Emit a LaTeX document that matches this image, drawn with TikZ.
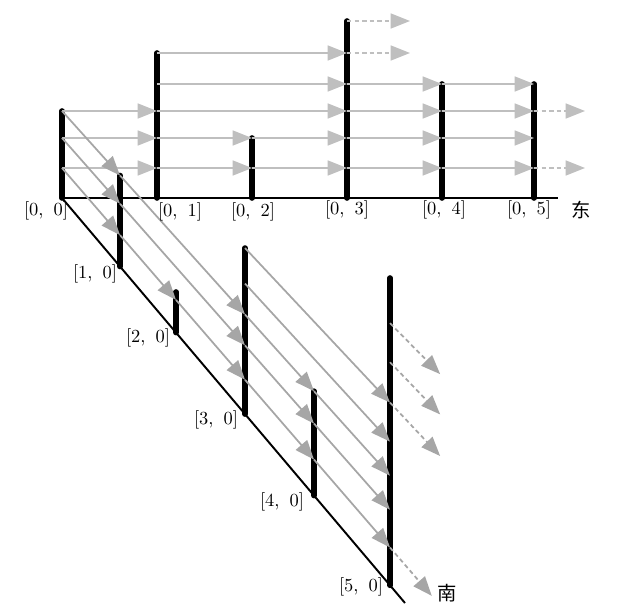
\documentclass[tikz,border=0pt]{standalone}
\usepackage{fontspec}
\usepackage{tikz}
\usepackage{xcolor}
\usetikzlibrary{arrows.meta,calc}
\newfontfamily\cjk{Noto Sans CJK SC}
\definecolor{FlowEast}{HTML}{BFBFBF}
\definecolor{FlowSouth}{HTML}{A6A6A6}
\newcommand\gridpos[2]{[#1,\hspace{0.55em}#2]}
\newcommand\labeast{东}
\newcommand\labsouth{南}
\tikzstyle{pole} = [line width=3.2pt, line cap=round, draw=black]
\tikzstyle{ground} = [line width=1.1pt, draw=black]
\tikzstyle{fe} = [->, line width=1pt, draw=FlowEast]
\tikzstyle{fs} = [->, line width=1pt, draw=FlowSouth]
\tikzstyle{fed} = [fe, dash pattern=on 2.5pt off 1.8pt]
\tikzstyle{fsd} = [fs, dash pattern=on 2.5pt off 1.8pt]
\tikzstyle{lbl} = [inner sep=0pt, font=\fontsize{10.5}{10.5}\selectfont]
\tikzset{>={Triangle[length=11pt,width=8.5pt]}}

\begin{document}
\begin{tikzpicture}[x=0.02cm, y=-0.02cm]
\useasboundingbox (0,0) rectangle (623,609);
% east row: bases and levels
\foreach \j/\x in {0/62,1/157,2/252,3/347,4/442,5/534} {
  \coordinate (e\j) at (\x,198);
  \foreach \n/\y in {1/168,2/138,3/111,4/84,5/53,6/21}
    \coordinate (e\j-\n) at (\x,\y);
}
% south row: bases and levels (grow towards the front)
\foreach \i/\x in {0/62,1/120,2/176,3/245,4/314,5/390} {
  \pgfmathsetmacro\by{198+1.1808*(\x-62)}
  \pgfmathsetmacro\sc{1+0.000793*(\x-62)}
  \coordinate (s\i) at (\x,\by);
  \foreach \n/\h in {1/30,2/60,3/87,4/114,5/145,6/177,7/208}
    \coordinate (s\i-\n) at (\x,\by-\sc*\h);
}
\coordinate (eend) at (558,198);
\coordinate (send) at (405,603);
\coordinate (s2t) at (176,292);
\coordinate (s5t) at (390,278);
\coordinate (x3-5) at (410,53);
\coordinate (x3-6) at (410,21);
\coordinate (x5-1) at (585,168);
\coordinate (x5-3) at (585,111);
\foreach \n in {5,6,7}
  \coordinate (y5-\n) at ($(s5-\n)!-0.66!(s4-\n)$);
\coordinate (y5-1) at ($(s5-1)!-0.55!(s4-1)$);

% ground lines
\draw[ground] (e0) -- (eend);
\draw[ground] (s0) -- (send);

% poles
\draw[pole] (e0) -- (e0-3);
\draw[pole] (e1) -- (e1-5);
\draw[pole] (e2) -- (e2-2);
\draw[pole] (e3) -- (e3-6);
\draw[pole] (e4) -- (e4-4);
\draw[pole] (e5) -- (e5-4);
\draw[pole] (s1) -- (s1-3);
\draw[pole] (s2) -- (s2t);
\draw[pole] (s3) -- (s3-5);
\draw[pole] (s4) -- (s4-3);
\draw[pole] (s5) -- (s5t);

% flow to the east
\foreach \a/\b/\n in {0/1/1,0/1/2,0/1/3,1/2/1,1/2/2,1/3/3,1/3/4,1/3/5,2/3/1,2/3/2,
  3/4/1,3/4/2,3/4/3,3/4/4,4/5/1,4/5/2,4/5/3,4/5/4}
  \draw[fe] (e\a-\n) -- (e\b-\n);
\draw[fed] (e3-5) -- (x3-5);
\draw[fed] (e3-6) -- (x3-6);
\draw[fed] (e5-1) -- (x5-1);
\draw[fed] (e5-3) -- (x5-3);

% flow to the south
\foreach \a/\b/\n in {0/1/1,0/1/2,0/1/3,1/2/1,1/3/2,1/3/3,2/3/1,
  3/4/1,3/4/2,3/4/3,3/5/4,3/5/5,4/5/1,4/5/2,4/5/3}
  \draw[fs] (s\a-\n) -- (s\b-\n);
\foreach \n in {1,5,6,7}
  \draw[fsd] (s5-\n) -- (y5-\n);

% labels
\node[lbl] (le0) at (46,211) {\gridpos{0}{0}};
\node[lbl] (le1) at (180,212) {\gridpos{0}{1}};
\node[lbl] (le2) at (253,212) {\gridpos{0}{2}};
\node[lbl] (le3) at (347,210) {\gridpos{0}{3}};
\node[lbl] (le4) at (444,210) {\gridpos{0}{4}};
\node[lbl] (le5) at (529,210) {\gridpos{0}{5}};
\node[lbl] (ls1) at (95,274) {\gridpos{1}{0}};
\node[lbl] (ls2) at (148,338) {\gridpos{2}{0}};
\node[lbl] (ls3) at (216,420) {\gridpos{3}{0}};
\node[lbl] (ls4) at (282,502) {\gridpos{4}{0}};
\node[lbl] (ls5) at (361,587) {\gridpos{5}{0}};
\node[lbl, font=\cjk\fontsize{11}{11}\selectfont] (least) at (581,210) {\labeast};
\node[lbl, font=\cjk\fontsize{11}{11}\selectfont] (lsouth) at (447,593) {\labsouth};
\end{tikzpicture}
\end{document}
